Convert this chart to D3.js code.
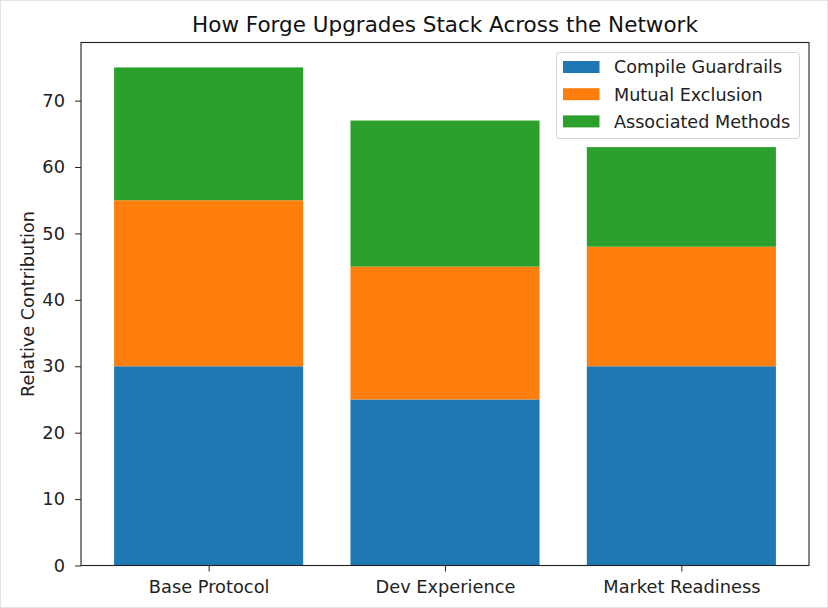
<!DOCTYPE html>
<html>
<head>
<meta charset="utf-8">
<script src="https://cdn.jsdelivr.net/npm/d3@7"></script>
<style>
  body { margin: 0; background: #fff; }
  svg { display: block; font-family: "DejaVu Sans", sans-serif; }
</style>
</head>
<body>
<svg id="chart" width="828" height="608"></svg>
<script>
const categories = ["Base Protocol", "Dev Experience", "Market Readiness"];
const seriesNames = ["Compile Guardrails", "Mutual Exclusion", "Associated Methods"];
const compileGuardrails = [30, 25, 30];
const mutualExclusion = [25, 20, 18];
const associatedMethods = [20, 22, 15];
const yTicks = [0, 10, 20, 30, 40, 50, 60, 70];
const colors = ["#1f77b4", "#ff7f0e", "#2ca02c"];

const svg = d3.select("#chart");
const margin = { left: 81, right: 19, top: 42.5, bottom: 42.5 };
const W = 828, H = 608;

// light frame round the figure
svg.append("rect")
  .attr("x", 0.5).attr("y", 0.5)
  .attr("width", W - 1).attr("height", H - 1)
  .attr("fill", "#fff")
  .attr("stroke", "#e3e3e3");

const rows = categories.map((c, i) => ({
  cat: c,
  "Compile Guardrails": compileGuardrails[i],
  "Mutual Exclusion": mutualExclusion[i],
  "Associated Methods": associatedMethods[i]
}));
const stacked = d3.stack().keys(seriesNames)(rows);
const maxTotal = d3.max(stacked[stacked.length - 1], d => d[1]);

// matplotlib-like linear category axis: bars of width 0.8, 5% margins
const x = d3.scaleLinear()
  .domain([-0.4 - 0.14, 2.4 + 0.14])
  .range([margin.left, W - margin.right]);
const y = d3.scaleLinear()
  .domain([0, maxTotal * 1.05])
  .range([H - margin.bottom, margin.top]);

stacked.forEach((layer, si) => {
  svg.append("g")
    .selectAll("rect")
    .data(layer)
    .enter()
    .append("rect")
    .attr("x", (d, i) => x(i - 0.4))
    .attr("width", x(0.4) - x(-0.4))
    .attr("y", d => y(d[1]))
    .attr("height", d => y(d[0]) - y(d[1]))
    .attr("fill", colors[si]);
});

// axes
const xAxis = d3.axisBottom(x)
  .tickValues([0, 1, 2])
  .tickFormat(i => categories[i])
  .tickSize(6)
  .tickPadding(8.5);
const yAxis = d3.axisLeft(y)
  .tickValues(yTicks)
  .tickSize(6)
  .tickPadding(10);

const gx = svg.append("g")
  .attr("transform", `translate(0,${H - margin.bottom})`)
  .call(xAxis);
const gy = svg.append("g")
  .attr("transform", `translate(${margin.left},0)`)
  .call(yAxis);

[gx, gy].forEach(g => {
  g.attr("font-size", null).attr("font-family", null);
  g.select(".domain").remove();
  g.selectAll("text").style("font-size", "17.8px").attr("fill", "#222");
  g.selectAll("line").attr("stroke", "#222").attr("stroke-width", 1);
});

// frame of the axes
svg.append("rect")
  .attr("x", margin.left)
  .attr("y", margin.top)
  .attr("width", W - margin.right - margin.left)
  .attr("height", H - margin.bottom - margin.top)
  .attr("fill", "none")
  .attr("stroke", "#222")
  .attr("stroke-width", 1.1);

// title
svg.append("text")
  .attr("x", (margin.left + W - margin.right) / 2)
  .attr("y", 32)
  .attr("text-anchor", "middle")
  .style("font-size", "21.5px")
  .attr("fill", "#111")
  .text("How Forge Upgrades Stack Across the Network");

// y label
svg.append("text")
  .attr("transform", `translate(34,${(margin.top + H - margin.bottom) / 2}) rotate(-90)`)
  .attr("text-anchor", "middle")
  .style("font-size", "17.6px")
  .attr("fill", "#222")
  .text("Relative Contribution");

// legend
const legend = svg.append("g").attr("transform", "translate(556,52)");
legend.append("rect")
  .attr("x", 0.5).attr("y", 0.5)
  .attr("width", 243).attr("height", 86)
  .attr("rx", 3)
  .attr("fill", "#fff").attr("fill-opacity", 0.8)
  .attr("stroke", "#d3d3d3");
seriesNames.forEach((name, i) => {
  const row = legend.append("g").attr("transform", `translate(7,${15 + i * 27.2})`);
  row.append("rect")
    .attr("y", -6)
    .attr("width", 36.5).attr("height", 12)
    .attr("fill", colors[i]);
  row.append("text")
    .attr("x", 51)
    .attr("y", 6.3)
    .style("font-size", "17.6px")
    .attr("fill", "#222")
    .text(name);
});
</script>
</body>
</html>
